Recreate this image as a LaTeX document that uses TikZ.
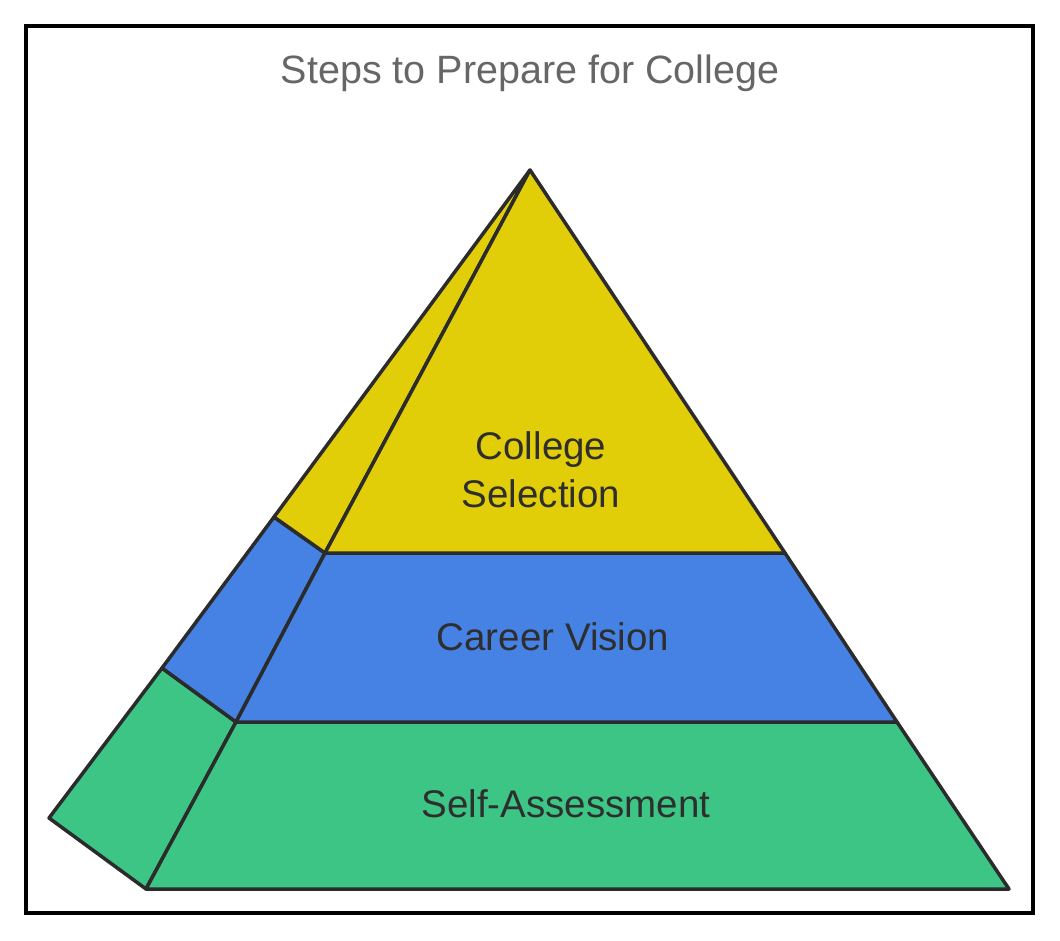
\documentclass[tikz,border=0pt]{standalone}
\usepackage{fontspec}
\setmainfont{Liberation Sans}
\definecolor{ylw}{HTML}{E2CD09}
\definecolor{blu}{HTML}{4682E3}
\definecolor{grn}{HTML}{3DC585}
\definecolor{edge}{HTML}{2B2B2B}
\definecolor{ttl}{HTML}{666666}
\definecolor{lbl}{HTML}{2E2E2E}
\begin{document}
\begin{tikzpicture}[x=1pt,y=-1pt,
  face/.style={draw=edge,line width=3.5pt,line join=round},
  lab/.style={text=lbl,font=\fontsize{38.5}{48}\selectfont,align=center,inner sep=0pt}]
\useasboundingbox (0,0) rectangle (1060,940);
\draw[line width=4pt] (26,26) rectangle (1033,913);
\node[text=ttl,font=\fontsize{39.5}{46}\selectfont,inner sep=0pt] (title) at (530,73) {Steps to Prepare for College};
% coordinates
\coordinate (A) at (530,170);
\coordinate (B) at (49,818);
\coordinate (FL) at (146,889);
\coordinate (FR) at (1009,889);
\coordinate (M1L) at (236,722);
\coordinate (M1R) at (897,722);
\coordinate (M2L) at (325,553);
\coordinate (M2R) at (785,553);
\coordinate (S1) at (162,668);
\coordinate (S2) at (274,517);
% side faces
\filldraw[face,fill=grn] (B) -- (S1) -- (M1L) -- (FL) -- cycle;
\filldraw[face,fill=blu] (S1) -- (S2) -- (M2L) -- (M1L) -- cycle;
\filldraw[face,fill=ylw] (S2) -- (A) -- (M2L) -- cycle;
% front faces
\filldraw[face,fill=grn] (FL) -- (M1L) -- (M1R) -- (FR) -- cycle;
\filldraw[face,fill=blu] (M1L) -- (M2L) -- (M2R) -- (M1R) -- cycle;
\filldraw[face,fill=ylw] (M2L) -- (A) -- (M2R) -- cycle;
\node[lab] (l3) at (541,470) {College\\Selection};
\node[lab] (l2) at (553,637) {Career Vision};
\node[lab] (l1) at (566,804) {Self-Assessment};
\end{tikzpicture}
\end{document}
